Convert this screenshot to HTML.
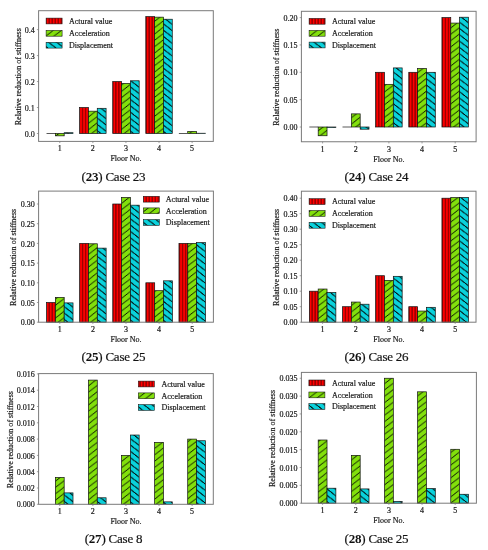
<!DOCTYPE html>
<html lang="en"><head><meta charset="utf-8"><title>Figure</title>
<style>
html,body{margin:0;padding:0;background:#fff}
body{width:488px;height:550px;overflow:hidden}
svg{display:block}
text{font-family:"Liberation Serif", serif;fill:#1a1a1a;stroke:#1a1a1a;stroke-width:0.2px}
.t{font-size:8px}
.yl{font-size:8.1px}
.cap{font-size:13px;fill:#111;letter-spacing:-0.22px}
.cap tspan{font-weight:bold;stroke-width:0}
</style></head><body>
<svg width="488" height="550" viewBox="0 0 488 550">
<rect width="488" height="550" fill="#fff"/>
<defs>
<pattern id="g1" patternUnits="userSpaceOnUse" x="0" y="2.04" width="8.157" height="6.33"><rect width="8.157" height="6.33" fill="#82e00c"/><path d="M-8.157 6.33L8.157 -6.33M0 6.33L8.157 0M0 12.66L16.314 0" stroke="#000" stroke-width="0.9" fill="none"/></pattern>
<pattern id="c1" patternUnits="userSpaceOnUse" x="0" y="4.63" width="8.157" height="6.33"><rect width="8.157" height="6.33" fill="#0ad2dc"/><path d="M-8.157 -6.33L8.157 6.33M0 0L8.157 6.33M0 -6.33L16.314 6.33M-8.157 0L8.157 12.66" stroke="#000" stroke-width="0.9" fill="none"/></pattern>
<pattern id="r1" patternUnits="userSpaceOnUse" x="2.22" y="0" width="3.03" height="10"><rect width="3.03" height="10" fill="#ff0000"/><path d="M1.515 0V10" stroke="#5a0000" stroke-width="0.9" fill="none"/></pattern>
<pattern id="g2" patternUnits="userSpaceOnUse" x="0" y="4.31" width="8.157" height="6.33"><rect width="8.157" height="6.33" fill="#82e00c"/><path d="M-8.157 6.33L8.157 -6.33M0 6.33L8.157 0M0 12.66L16.314 0" stroke="#000" stroke-width="0.9" fill="none"/></pattern>
<pattern id="c2" patternUnits="userSpaceOnUse" x="0" y="1.02" width="8.157" height="6.33"><rect width="8.157" height="6.33" fill="#0ad2dc"/><path d="M-8.157 -6.33L8.157 6.33M0 0L8.157 6.33M0 -6.33L16.314 6.33M-8.157 0L8.157 12.66" stroke="#000" stroke-width="0.9" fill="none"/></pattern>
<pattern id="r2" patternUnits="userSpaceOnUse" x="1.537" y="0" width="3.03" height="10"><rect width="3.03" height="10" fill="#ff0000"/><path d="M1.515 0V10" stroke="#5a0000" stroke-width="0.9" fill="none"/></pattern>
<pattern id="g3" patternUnits="userSpaceOnUse" x="0" y="0.22" width="8.157" height="6.33"><rect width="8.157" height="6.33" fill="#82e00c"/><path d="M-8.157 6.33L8.157 -6.33M0 6.33L8.157 0M0 12.66L16.314 0" stroke="#000" stroke-width="0.9" fill="none"/></pattern>
<pattern id="c3" patternUnits="userSpaceOnUse" x="0" y="3.63" width="8.157" height="6.33"><rect width="8.157" height="6.33" fill="#0ad2dc"/><path d="M-8.157 -6.33L8.157 6.33M0 0L8.157 6.33M0 -6.33L16.314 6.33M-8.157 0L8.157 12.66" stroke="#000" stroke-width="0.9" fill="none"/></pattern>
<pattern id="r3" patternUnits="userSpaceOnUse" x="2.263" y="0" width="3.03" height="10"><rect width="3.03" height="10" fill="#ff0000"/><path d="M1.515 0V10" stroke="#5a0000" stroke-width="0.9" fill="none"/></pattern>
<pattern id="g4" patternUnits="userSpaceOnUse" x="0" y="2.22" width="8.157" height="6.33"><rect width="8.157" height="6.33" fill="#82e00c"/><path d="M-8.157 6.33L8.157 -6.33M0 6.33L8.157 0M0 12.66L16.314 0" stroke="#000" stroke-width="0.9" fill="none"/></pattern>
<pattern id="c4" patternUnits="userSpaceOnUse" x="0" y="4.55" width="8.157" height="6.33"><rect width="8.157" height="6.33" fill="#0ad2dc"/><path d="M-8.157 -6.33L8.157 6.33M0 0L8.157 6.33M0 -6.33L16.314 6.33M-8.157 0L8.157 12.66" stroke="#000" stroke-width="0.9" fill="none"/></pattern>
<pattern id="r4" patternUnits="userSpaceOnUse" x="1.537" y="0" width="3.03" height="10"><rect width="3.03" height="10" fill="#ff0000"/><path d="M1.515 0V10" stroke="#5a0000" stroke-width="0.9" fill="none"/></pattern>
<pattern id="g5" patternUnits="userSpaceOnUse" x="0" y="5.11" width="8.157" height="6.33"><rect width="8.157" height="6.33" fill="#82e00c"/><path d="M-8.157 6.33L8.157 -6.33M0 6.33L8.157 0M0 12.66L16.314 0" stroke="#000" stroke-width="0.9" fill="none"/></pattern>
<pattern id="c5" patternUnits="userSpaceOnUse" x="0" y="1.97" width="8.157" height="6.33"><rect width="8.157" height="6.33" fill="#0ad2dc"/><path d="M-8.157 -6.33L8.157 6.33M0 0L8.157 6.33M0 -6.33L16.314 6.33M-8.157 0L8.157 12.66" stroke="#000" stroke-width="0.9" fill="none"/></pattern>
<pattern id="r5" patternUnits="userSpaceOnUse" x="2.22" y="0" width="3.03" height="10"><rect width="3.03" height="10" fill="#ff0000"/><path d="M1.515 0V10" stroke="#5a0000" stroke-width="0.9" fill="none"/></pattern>
<pattern id="g6" patternUnits="userSpaceOnUse" x="0" y="4.75" width="8.157" height="6.33"><rect width="8.157" height="6.33" fill="#82e00c"/><path d="M-8.157 6.33L8.157 -6.33M0 6.33L8.157 0M0 12.66L16.314 0" stroke="#000" stroke-width="0.9" fill="none"/></pattern>
<pattern id="c6" patternUnits="userSpaceOnUse" x="0" y="1.03" width="8.157" height="6.33"><rect width="8.157" height="6.33" fill="#0ad2dc"/><path d="M-8.157 -6.33L8.157 6.33M0 0L8.157 6.33M0 -6.33L16.314 6.33M-8.157 0L8.157 12.66" stroke="#000" stroke-width="0.9" fill="none"/></pattern>
<pattern id="r6" patternUnits="userSpaceOnUse" x="1.537" y="0" width="3.03" height="10"><rect width="3.03" height="10" fill="#ff0000"/><path d="M1.515 0V10" stroke="#5a0000" stroke-width="0.9" fill="none"/></pattern>
</defs>
<g id="chart1">
<path d="M46.54 133.50h8.82" stroke="#111" stroke-width="0.7" fill="none"/>
<rect x="55.36" y="133.50" width="8.82" height="2.34" fill="url(#g1)" stroke="#111" stroke-width="0.7"/>
<rect x="64.19" y="132.72" width="8.82" height="0.78" fill="url(#c1)" stroke="#111" stroke-width="0.7"/>
<rect x="79.63" y="107.53" width="8.82" height="25.97" fill="url(#r1)" stroke="#111" stroke-width="0.7"/>
<rect x="88.45" y="111.17" width="8.82" height="22.33" fill="url(#g1)" stroke="#111" stroke-width="0.7"/>
<rect x="97.27" y="108.31" width="8.82" height="25.19" fill="url(#c1)" stroke="#111" stroke-width="0.7"/>
<rect x="112.72" y="81.56" width="8.82" height="51.94" fill="url(#r1)" stroke="#111" stroke-width="0.7"/>
<rect x="121.54" y="83.38" width="8.82" height="50.12" fill="url(#g1)" stroke="#111" stroke-width="0.7"/>
<rect x="130.36" y="80.78" width="8.82" height="52.72" fill="url(#c1)" stroke="#111" stroke-width="0.7"/>
<rect x="145.80" y="16.64" width="8.82" height="116.86" fill="url(#r1)" stroke="#111" stroke-width="0.7"/>
<rect x="154.63" y="17.15" width="8.82" height="116.35" fill="url(#g1)" stroke="#111" stroke-width="0.7"/>
<rect x="163.45" y="19.23" width="8.82" height="114.27" fill="url(#c1)" stroke="#111" stroke-width="0.7"/>
<path d="M178.89 133.50h8.82" stroke="#111" stroke-width="0.7" fill="none"/>
<rect x="187.71" y="131.42" width="8.82" height="2.08" fill="url(#g1)" stroke="#111" stroke-width="0.7"/>
<rect x="196.54" y="133.24" width="8.82" height="0.26" fill="url(#c1)" stroke="#111" stroke-width="0.7"/>
<rect x="38.6" y="10.7" width="174.70" height="130.70" fill="none" stroke="#7a7a7a" stroke-width="1.0"/>
<path d="M59.78 141.4v1.7M92.86 141.4v1.7M125.95 141.4v1.7M159.04 141.4v1.7M192.12 141.4v1.7M38.6 133.50h-1.7M38.6 107.53h-1.7M38.6 81.56h-1.7M38.6 55.59h-1.7M38.6 29.62h-1.7" stroke="#7a7a7a" stroke-width="0.7" fill="none"/>
<text class="t" x="59.78" y="151.40" text-anchor="middle">1</text>
<text class="t" x="92.86" y="151.40" text-anchor="middle">2</text>
<text class="t" x="125.95" y="151.40" text-anchor="middle">3</text>
<text class="t" x="159.04" y="151.40" text-anchor="middle">4</text>
<text class="t" x="192.12" y="151.40" text-anchor="middle">5</text>
<text class="t" x="34.80" y="136.60" text-anchor="end">0.0</text>
<text class="t" x="34.80" y="110.63" text-anchor="end">0.1</text>
<text class="t" x="34.80" y="84.66" text-anchor="end">0.2</text>
<text class="t" x="34.80" y="58.69" text-anchor="end">0.3</text>
<text class="t" x="34.80" y="32.72" text-anchor="end">0.4</text>
<text class="t" x="125.95" y="161.20" text-anchor="middle">Floor No.</text>
<text class="yl" transform="translate(20.50 76.75) rotate(-90)" text-anchor="middle">Relative reduction of stiffness</text>
<rect x="46.1" y="18.10" width="16" height="5.8" fill="url(#r1)" stroke="#111" stroke-width="0.55"/>
<text class="t" x="69.0" y="23.80">Actural value</text>
<rect x="46.1" y="30.40" width="16" height="5.8" fill="url(#g1)" stroke="#111" stroke-width="0.55"/>
<text class="t" x="69.0" y="36.10">Acceleration</text>
<rect x="46.1" y="42.30" width="16" height="5.8" fill="url(#c1)" stroke="#111" stroke-width="0.55"/>
<text class="t" x="69.0" y="48.00">Displacement</text>
<text class="cap" x="113.5" y="180.7" text-anchor="middle">(<tspan>23</tspan>) Case 23</text>
</g>
<g id="chart2">
<path d="M309.35 127.00h8.84" stroke="#111" stroke-width="0.7" fill="none"/>
<rect x="318.19" y="127.00" width="8.84" height="8.75" fill="url(#g2)" stroke="#111" stroke-width="0.7"/>
<rect x="327.03" y="127.00" width="8.84" height="0.55" fill="url(#c2)" stroke="#111" stroke-width="0.7"/>
<path d="M342.50 127.00h8.84" stroke="#111" stroke-width="0.7" fill="none"/>
<rect x="351.34" y="113.87" width="8.84" height="13.13" fill="url(#g2)" stroke="#111" stroke-width="0.7"/>
<rect x="360.18" y="127.00" width="8.84" height="2.19" fill="url(#c2)" stroke="#111" stroke-width="0.7"/>
<rect x="375.64" y="72.30" width="8.84" height="54.70" fill="url(#r2)" stroke="#111" stroke-width="0.7"/>
<rect x="384.48" y="84.33" width="8.84" height="42.67" fill="url(#g2)" stroke="#111" stroke-width="0.7"/>
<rect x="393.32" y="67.92" width="8.84" height="59.08" fill="url(#c2)" stroke="#111" stroke-width="0.7"/>
<rect x="408.79" y="72.30" width="8.84" height="54.70" fill="url(#r2)" stroke="#111" stroke-width="0.7"/>
<rect x="417.62" y="68.47" width="8.84" height="58.53" fill="url(#g2)" stroke="#111" stroke-width="0.7"/>
<rect x="426.46" y="72.30" width="8.84" height="54.70" fill="url(#c2)" stroke="#111" stroke-width="0.7"/>
<rect x="441.93" y="17.60" width="8.84" height="109.40" fill="url(#r2)" stroke="#111" stroke-width="0.7"/>
<rect x="450.77" y="23.07" width="8.84" height="103.93" fill="url(#g2)" stroke="#111" stroke-width="0.7"/>
<rect x="459.61" y="17.22" width="8.84" height="109.78" fill="url(#c2)" stroke="#111" stroke-width="0.7"/>
<rect x="301.4" y="11.3" width="174.70" height="130.45" fill="none" stroke="#7a7a7a" stroke-width="1.0"/>
<path d="M322.61 141.75v1.7M355.76 141.75v1.7M388.90 141.75v1.7M422.04 141.75v1.7M455.19 141.75v1.7M301.4 127.00h-1.7M301.4 99.65h-1.7M301.4 72.30h-1.7M301.4 44.95h-1.7M301.4 17.60h-1.7" stroke="#7a7a7a" stroke-width="0.7" fill="none"/>
<text class="t" x="322.61" y="151.75" text-anchor="middle">1</text>
<text class="t" x="355.76" y="151.75" text-anchor="middle">2</text>
<text class="t" x="388.90" y="151.75" text-anchor="middle">3</text>
<text class="t" x="422.04" y="151.75" text-anchor="middle">4</text>
<text class="t" x="455.19" y="151.75" text-anchor="middle">5</text>
<text class="t" x="297.60" y="130.10" text-anchor="end">0.00</text>
<text class="t" x="297.60" y="102.75" text-anchor="end">0.05</text>
<text class="t" x="297.60" y="75.40" text-anchor="end">0.10</text>
<text class="t" x="297.60" y="48.05" text-anchor="end">0.15</text>
<text class="t" x="297.60" y="20.70" text-anchor="end">0.20</text>
<text class="t" x="388.90" y="161.55" text-anchor="middle">Floor No.</text>
<text class="yl" transform="translate(278.50 77.23) rotate(-90)" text-anchor="middle">Relative reduction of stiffness</text>
<rect x="309.1" y="18.40" width="16" height="5.8" fill="url(#r2)" stroke="#111" stroke-width="0.55"/>
<text class="t" x="331.9" y="24.10">Actural value</text>
<rect x="309.1" y="30.40" width="16" height="5.8" fill="url(#g2)" stroke="#111" stroke-width="0.55"/>
<text class="t" x="331.9" y="36.10">Acceleration</text>
<rect x="309.1" y="42.10" width="16" height="5.8" fill="url(#c2)" stroke="#111" stroke-width="0.55"/>
<text class="t" x="331.9" y="47.80">Displacement</text>
<text class="cap" x="376.5" y="180.7" text-anchor="middle">(<tspan>24</tspan>) Case 24</text>
</g>
<g id="chart3">
<rect x="46.55" y="302.50" width="8.83" height="19.70" fill="url(#r3)" stroke="#111" stroke-width="0.7"/>
<rect x="55.37" y="297.38" width="8.83" height="24.82" fill="url(#g3)" stroke="#111" stroke-width="0.7"/>
<rect x="64.20" y="302.89" width="8.83" height="19.31" fill="url(#c3)" stroke="#111" stroke-width="0.7"/>
<rect x="79.65" y="243.40" width="8.83" height="78.80" fill="url(#r3)" stroke="#111" stroke-width="0.7"/>
<rect x="88.48" y="243.79" width="8.83" height="78.41" fill="url(#g3)" stroke="#111" stroke-width="0.7"/>
<rect x="97.31" y="248.13" width="8.83" height="74.07" fill="url(#c3)" stroke="#111" stroke-width="0.7"/>
<rect x="112.76" y="204.00" width="8.83" height="118.20" fill="url(#r3)" stroke="#111" stroke-width="0.7"/>
<rect x="121.59" y="197.42" width="8.83" height="124.78" fill="url(#g3)" stroke="#111" stroke-width="0.7"/>
<rect x="130.41" y="205.18" width="8.83" height="117.02" fill="url(#c3)" stroke="#111" stroke-width="0.7"/>
<rect x="145.86" y="282.80" width="8.83" height="39.40" fill="url(#r3)" stroke="#111" stroke-width="0.7"/>
<rect x="154.69" y="290.68" width="8.83" height="31.52" fill="url(#g3)" stroke="#111" stroke-width="0.7"/>
<rect x="163.52" y="280.83" width="8.83" height="41.37" fill="url(#c3)" stroke="#111" stroke-width="0.7"/>
<rect x="178.97" y="243.40" width="8.83" height="78.80" fill="url(#r3)" stroke="#111" stroke-width="0.7"/>
<rect x="187.80" y="243.40" width="8.83" height="78.80" fill="url(#g3)" stroke="#111" stroke-width="0.7"/>
<rect x="196.63" y="242.61" width="8.83" height="79.59" fill="url(#c3)" stroke="#111" stroke-width="0.7"/>
<rect x="38.6" y="191.1" width="174.80" height="131.10" fill="none" stroke="#7a7a7a" stroke-width="1.0"/>
<path d="M59.79 322.2v1.7M92.89 322.2v1.7M126.00 322.2v1.7M159.11 322.2v1.7M192.21 322.2v1.7M38.6 322.20h-1.7M38.6 302.50h-1.7M38.6 282.80h-1.7M38.6 263.10h-1.7M38.6 243.40h-1.7M38.6 223.70h-1.7M38.6 204.00h-1.7" stroke="#7a7a7a" stroke-width="0.7" fill="none"/>
<text class="t" x="59.79" y="332.20" text-anchor="middle">1</text>
<text class="t" x="92.89" y="332.20" text-anchor="middle">2</text>
<text class="t" x="126.00" y="332.20" text-anchor="middle">3</text>
<text class="t" x="159.11" y="332.20" text-anchor="middle">4</text>
<text class="t" x="192.21" y="332.20" text-anchor="middle">5</text>
<text class="t" x="34.80" y="325.30" text-anchor="end">0.00</text>
<text class="t" x="34.80" y="305.60" text-anchor="end">0.05</text>
<text class="t" x="34.80" y="285.90" text-anchor="end">0.10</text>
<text class="t" x="34.80" y="266.20" text-anchor="end">0.15</text>
<text class="t" x="34.80" y="246.50" text-anchor="end">0.20</text>
<text class="t" x="34.80" y="226.80" text-anchor="end">0.25</text>
<text class="t" x="34.80" y="207.10" text-anchor="end">0.30</text>
<text class="t" x="126.00" y="342.00" text-anchor="middle">Floor No.</text>
<text class="yl" transform="translate(16.40 257.35) rotate(-90)" text-anchor="middle">Relative reduction of stiffness</text>
<rect x="143.3" y="196.30" width="16" height="5.8" fill="url(#r3)" stroke="#111" stroke-width="0.55"/>
<text class="t" x="165.8" y="202.00">Actural value</text>
<rect x="143.3" y="207.90" width="16" height="5.8" fill="url(#g3)" stroke="#111" stroke-width="0.55"/>
<text class="t" x="165.8" y="213.60">Acceleration</text>
<rect x="143.3" y="219.60" width="16" height="5.8" fill="url(#c3)" stroke="#111" stroke-width="0.55"/>
<text class="t" x="165.8" y="225.30">Displacement</text>
<text class="cap" x="113.5" y="361.3" text-anchor="middle">(<tspan>25</tspan>) Case 25</text>
</g>
<g id="chart4">
<rect x="309.35" y="291.20" width="8.84" height="31.00" fill="url(#r4)" stroke="#111" stroke-width="0.7"/>
<rect x="318.19" y="289.03" width="8.84" height="33.17" fill="url(#g4)" stroke="#111" stroke-width="0.7"/>
<rect x="327.03" y="292.44" width="8.84" height="29.76" fill="url(#c4)" stroke="#111" stroke-width="0.7"/>
<rect x="342.50" y="306.70" width="8.84" height="15.50" fill="url(#r4)" stroke="#111" stroke-width="0.7"/>
<rect x="351.34" y="302.05" width="8.84" height="20.15" fill="url(#g4)" stroke="#111" stroke-width="0.7"/>
<rect x="360.18" y="304.22" width="8.84" height="17.98" fill="url(#c4)" stroke="#111" stroke-width="0.7"/>
<rect x="375.64" y="275.70" width="8.84" height="46.50" fill="url(#r4)" stroke="#111" stroke-width="0.7"/>
<rect x="384.48" y="280.35" width="8.84" height="41.85" fill="url(#g4)" stroke="#111" stroke-width="0.7"/>
<rect x="393.32" y="276.32" width="8.84" height="45.88" fill="url(#c4)" stroke="#111" stroke-width="0.7"/>
<rect x="408.79" y="306.70" width="8.84" height="15.50" fill="url(#r4)" stroke="#111" stroke-width="0.7"/>
<rect x="417.62" y="311.04" width="8.84" height="11.16" fill="url(#g4)" stroke="#111" stroke-width="0.7"/>
<rect x="426.46" y="307.32" width="8.84" height="14.88" fill="url(#c4)" stroke="#111" stroke-width="0.7"/>
<rect x="441.93" y="198.20" width="8.84" height="124.00" fill="url(#r4)" stroke="#111" stroke-width="0.7"/>
<rect x="450.77" y="197.58" width="8.84" height="124.62" fill="url(#g4)" stroke="#111" stroke-width="0.7"/>
<rect x="459.61" y="197.42" width="8.84" height="124.78" fill="url(#c4)" stroke="#111" stroke-width="0.7"/>
<rect x="301.4" y="191.2" width="174.60" height="131.00" fill="none" stroke="#7a7a7a" stroke-width="1.0"/>
<path d="M322.61 322.2v1.7M355.76 322.2v1.7M388.90 322.2v1.7M422.04 322.2v1.7M455.19 322.2v1.7M301.4 322.20h-1.7M301.4 306.70h-1.7M301.4 291.20h-1.7M301.4 275.70h-1.7M301.4 260.20h-1.7M301.4 244.70h-1.7M301.4 229.20h-1.7M301.4 213.70h-1.7M301.4 198.20h-1.7" stroke="#7a7a7a" stroke-width="0.7" fill="none"/>
<text class="t" x="322.61" y="332.20" text-anchor="middle">1</text>
<text class="t" x="355.76" y="332.20" text-anchor="middle">2</text>
<text class="t" x="388.90" y="332.20" text-anchor="middle">3</text>
<text class="t" x="422.04" y="332.20" text-anchor="middle">4</text>
<text class="t" x="455.19" y="332.20" text-anchor="middle">5</text>
<text class="t" x="297.60" y="325.30" text-anchor="end">0.00</text>
<text class="t" x="297.60" y="309.80" text-anchor="end">0.05</text>
<text class="t" x="297.60" y="294.30" text-anchor="end">0.10</text>
<text class="t" x="297.60" y="278.80" text-anchor="end">0.15</text>
<text class="t" x="297.60" y="263.30" text-anchor="end">0.20</text>
<text class="t" x="297.60" y="247.80" text-anchor="end">0.25</text>
<text class="t" x="297.60" y="232.30" text-anchor="end">0.30</text>
<text class="t" x="297.60" y="216.80" text-anchor="end">0.35</text>
<text class="t" x="297.60" y="201.30" text-anchor="end">0.40</text>
<text class="t" x="388.90" y="342.00" text-anchor="middle">Floor No.</text>
<text class="yl" transform="translate(278.50 257.40) rotate(-90)" text-anchor="middle">Relative reduction of stiffness</text>
<rect x="309.1" y="198.70" width="16" height="5.8" fill="url(#r4)" stroke="#111" stroke-width="0.55"/>
<text class="t" x="331.9" y="204.40">Actural value</text>
<rect x="309.1" y="210.50" width="16" height="5.8" fill="url(#g4)" stroke="#111" stroke-width="0.55"/>
<text class="t" x="331.9" y="216.20">Acceleration</text>
<rect x="309.1" y="222.40" width="16" height="5.8" fill="url(#c4)" stroke="#111" stroke-width="0.55"/>
<text class="t" x="331.9" y="228.10">Displacement</text>
<text class="cap" x="376.5" y="361.3" text-anchor="middle">(<tspan>26</tspan>) Case 26</text>
</g>
<g id="chart5">
<rect x="55.36" y="477.41" width="8.82" height="26.89" fill="url(#g5)" stroke="#111" stroke-width="0.7"/>
<rect x="64.19" y="492.89" width="8.82" height="11.41" fill="url(#c5)" stroke="#111" stroke-width="0.7"/>
<rect x="88.45" y="380.09" width="8.82" height="124.21" fill="url(#g5)" stroke="#111" stroke-width="0.7"/>
<rect x="97.27" y="497.78" width="8.82" height="6.52" fill="url(#c5)" stroke="#111" stroke-width="0.7"/>
<rect x="121.54" y="455.40" width="8.82" height="48.90" fill="url(#g5)" stroke="#111" stroke-width="0.7"/>
<rect x="130.36" y="435.02" width="8.82" height="69.28" fill="url(#c5)" stroke="#111" stroke-width="0.7"/>
<rect x="154.63" y="442.36" width="8.82" height="61.94" fill="url(#g5)" stroke="#111" stroke-width="0.7"/>
<rect x="163.45" y="501.86" width="8.82" height="2.44" fill="url(#c5)" stroke="#111" stroke-width="0.7"/>
<rect x="187.71" y="439.10" width="8.82" height="65.20" fill="url(#g5)" stroke="#111" stroke-width="0.7"/>
<rect x="196.54" y="440.73" width="8.82" height="63.57" fill="url(#c5)" stroke="#111" stroke-width="0.7"/>
<rect x="38.6" y="373.6" width="174.70" height="130.70" fill="none" stroke="#7a7a7a" stroke-width="1.0"/>
<path d="M59.78 504.3v1.7M92.86 504.3v1.7M125.95 504.3v1.7M159.04 504.3v1.7M192.12 504.3v1.7M38.6 504.30h-1.7M38.6 488.00h-1.7M38.6 471.70h-1.7M38.6 455.40h-1.7M38.6 439.10h-1.7M38.6 422.80h-1.7M38.6 406.50h-1.7M38.6 390.20h-1.7M38.6 373.90h-1.7" stroke="#7a7a7a" stroke-width="0.7" fill="none"/>
<text class="t" x="59.78" y="514.30" text-anchor="middle">1</text>
<text class="t" x="92.86" y="514.30" text-anchor="middle">2</text>
<text class="t" x="125.95" y="514.30" text-anchor="middle">3</text>
<text class="t" x="159.04" y="514.30" text-anchor="middle">4</text>
<text class="t" x="192.12" y="514.30" text-anchor="middle">5</text>
<text class="t" x="34.80" y="507.40" text-anchor="end">0.000</text>
<text class="t" x="34.80" y="491.10" text-anchor="end">0.002</text>
<text class="t" x="34.80" y="474.80" text-anchor="end">0.004</text>
<text class="t" x="34.80" y="458.50" text-anchor="end">0.006</text>
<text class="t" x="34.80" y="442.20" text-anchor="end">0.008</text>
<text class="t" x="34.80" y="425.90" text-anchor="end">0.010</text>
<text class="t" x="34.80" y="409.60" text-anchor="end">0.012</text>
<text class="t" x="34.80" y="393.30" text-anchor="end">0.014</text>
<text class="t" x="34.80" y="377.00" text-anchor="end">0.016</text>
<text class="t" x="125.95" y="524.10" text-anchor="middle">Floor No.</text>
<text class="yl" transform="translate(12.50 439.65) rotate(-90)" text-anchor="middle">Relative reduction of stiffness</text>
<rect x="138.3" y="381.10" width="16" height="5.8" fill="url(#r5)" stroke="#111" stroke-width="0.55"/>
<text class="t" x="161.5" y="386.80">Actural value</text>
<rect x="138.3" y="392.90" width="16" height="5.8" fill="url(#g5)" stroke="#111" stroke-width="0.55"/>
<text class="t" x="161.5" y="398.60">Acceleration</text>
<rect x="138.3" y="404.60" width="16" height="5.8" fill="url(#c5)" stroke="#111" stroke-width="0.55"/>
<text class="t" x="161.5" y="410.30">Displacement</text>
<text class="cap" x="113.5" y="542.8" text-anchor="middle">(<tspan>27</tspan>) Case 8</text>
</g>
<g id="chart6">
<rect x="318.19" y="440.01" width="8.84" height="63.19" fill="url(#g6)" stroke="#111" stroke-width="0.7"/>
<rect x="327.03" y="488.21" width="8.84" height="14.99" fill="url(#c6)" stroke="#111" stroke-width="0.7"/>
<rect x="351.34" y="455.36" width="8.84" height="47.84" fill="url(#g6)" stroke="#111" stroke-width="0.7"/>
<rect x="360.18" y="488.92" width="8.84" height="14.28" fill="url(#c6)" stroke="#111" stroke-width="0.7"/>
<rect x="384.48" y="378.25" width="8.84" height="124.95" fill="url(#g6)" stroke="#111" stroke-width="0.7"/>
<rect x="393.32" y="501.41" width="8.84" height="1.79" fill="url(#c6)" stroke="#111" stroke-width="0.7"/>
<rect x="417.62" y="391.82" width="8.84" height="111.38" fill="url(#g6)" stroke="#111" stroke-width="0.7"/>
<rect x="426.46" y="488.56" width="8.84" height="14.64" fill="url(#c6)" stroke="#111" stroke-width="0.7"/>
<rect x="450.77" y="449.29" width="8.84" height="53.91" fill="url(#g6)" stroke="#111" stroke-width="0.7"/>
<rect x="459.61" y="494.27" width="8.84" height="8.93" fill="url(#c6)" stroke="#111" stroke-width="0.7"/>
<rect x="301.4" y="372.4" width="175.00" height="130.80" fill="none" stroke="#7a7a7a" stroke-width="1.0"/>
<path d="M322.61 503.2v1.7M355.76 503.2v1.7M388.90 503.2v1.7M422.04 503.2v1.7M455.19 503.2v1.7M301.4 503.20h-1.7M301.4 485.35h-1.7M301.4 467.50h-1.7M301.4 449.65h-1.7M301.4 431.80h-1.7M301.4 413.95h-1.7M301.4 396.10h-1.7M301.4 378.25h-1.7" stroke="#7a7a7a" stroke-width="0.7" fill="none"/>
<text class="t" x="322.61" y="513.20" text-anchor="middle">1</text>
<text class="t" x="355.76" y="513.20" text-anchor="middle">2</text>
<text class="t" x="388.90" y="513.20" text-anchor="middle">3</text>
<text class="t" x="422.04" y="513.20" text-anchor="middle">4</text>
<text class="t" x="455.19" y="513.20" text-anchor="middle">5</text>
<text class="t" x="297.60" y="506.30" text-anchor="end">0.000</text>
<text class="t" x="297.60" y="488.45" text-anchor="end">0.005</text>
<text class="t" x="297.60" y="470.60" text-anchor="end">0.010</text>
<text class="t" x="297.60" y="452.75" text-anchor="end">0.015</text>
<text class="t" x="297.60" y="434.90" text-anchor="end">0.020</text>
<text class="t" x="297.60" y="417.05" text-anchor="end">0.025</text>
<text class="t" x="297.60" y="399.20" text-anchor="end">0.030</text>
<text class="t" x="297.60" y="381.35" text-anchor="end">0.035</text>
<text class="t" x="388.90" y="523.00" text-anchor="middle">Floor No.</text>
<text class="yl" transform="translate(274.50 438.50) rotate(-90)" text-anchor="middle">Relative reduction of stiffness</text>
<rect x="308.9" y="380.00" width="16" height="5.8" fill="url(#r6)" stroke="#111" stroke-width="0.55"/>
<text class="t" x="331.9" y="385.70">Actural value</text>
<rect x="308.9" y="392.00" width="16" height="5.8" fill="url(#g6)" stroke="#111" stroke-width="0.55"/>
<text class="t" x="331.9" y="397.70">Acceleration</text>
<rect x="308.9" y="403.60" width="16" height="5.8" fill="url(#c6)" stroke="#111" stroke-width="0.55"/>
<text class="t" x="331.9" y="409.30">Displacement</text>
<text class="cap" x="376.5" y="542.8" text-anchor="middle">(<tspan>28</tspan>) Case 25</text>
</g>
</svg>
</body></html>
